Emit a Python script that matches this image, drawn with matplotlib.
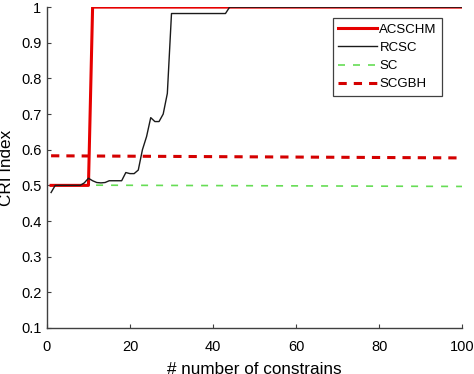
import matplotlib.pyplot as plt

plt.rcParams['font.family'] = ['Liberation Sans', 'DejaVu Sans']

# number of constraints
x = list(range(1, 101))

acschm = [0.5] * 10 + [1.0] * 90

rcsc_head = [0.48, 0.50, 0.50, 0.50, 0.50, 0.50, 0.50, 0.50, 0.507, 0.52,
             0.513, 0.508, 0.507, 0.508, 0.513, 0.513, 0.513, 0.513, 0.536, 0.533,
             0.533, 0.543, 0.60, 0.637, 0.69, 0.679, 0.679, 0.70, 0.758, 0.982]
rcsc = rcsc_head + [0.982] * 13 + [1.0] * 57

sc_x = [1, 100]
sc = [0.501, 0.497]

scgbh_x = [1, 100]
scgbh = [0.583, 0.577]

fig = plt.figure(figsize=(4.74, 3.74), dpi=100)
ax = fig.add_axes([0.099, 0.123, 0.876, 0.858])

ax.plot(x, acschm, color='#e60000', lw=2.2, label='ACSCHM', zorder=4)
ax.plot(x, rcsc, color='#1a1a1a', lw=1.0, label='RCSC', zorder=5)
ax.plot(sc_x, sc, color='#66dd55', lw=1.2, ls=(0, (4.2, 4.8)), label='SC', zorder=3)
ax.plot(scgbh_x, scgbh, color='#d40000', lw=2.2, ls=(0, (2.7, 2.3)), label='SCGBH', zorder=3)

ax.set_xlim(0, 100)
ax.set_ylim(0.1, 1)
ax.set_xticks([0, 20, 40, 60, 80, 100])
ax.set_yticks([0.1, 0.2, 0.3, 0.4, 0.5, 0.6, 0.7, 0.8, 0.9, 1])
ax.set_yticklabels(['0.1', '0.2', '0.3', '0.4', '0.5', '0.6', '0.7', '0.8', '0.9', '1'])

for s in ['top', 'right']:
    ax.spines[s].set_visible(False)
for s in ['left', 'bottom']:
    ax.spines[s].set_color('#404040')
    ax.spines[s].set_linewidth(1.0)

ax.tick_params(direction='in', length=3, width=0.8, colors='#404040',
               labelcolor='black', labelsize=10.5)
ax.tick_params(axis='x', pad=9)
ax.tick_params(axis='y', pad=4)

ax.set_xlabel('# number of constrains', fontsize=12.3)
ax.xaxis.set_label_coords(0.5, -0.105)
ax.set_ylabel('CRI Index', fontsize=12.3)
ax.yaxis.set_label_coords(-0.08, 0.5)

leg = ax.legend(loc='upper right', bbox_to_anchor=(0.952, 0.965), borderaxespad=0,
                fontsize=9.5, handlelength=3.0, handletextpad=0.15, labelspacing=0.45,
                borderpad=0.4, fancybox=False, framealpha=1)
leg.get_frame().set_edgecolor('#404040')
leg.get_frame().set_linewidth(0.9)

fig.savefig('out.png', dpi=100)
